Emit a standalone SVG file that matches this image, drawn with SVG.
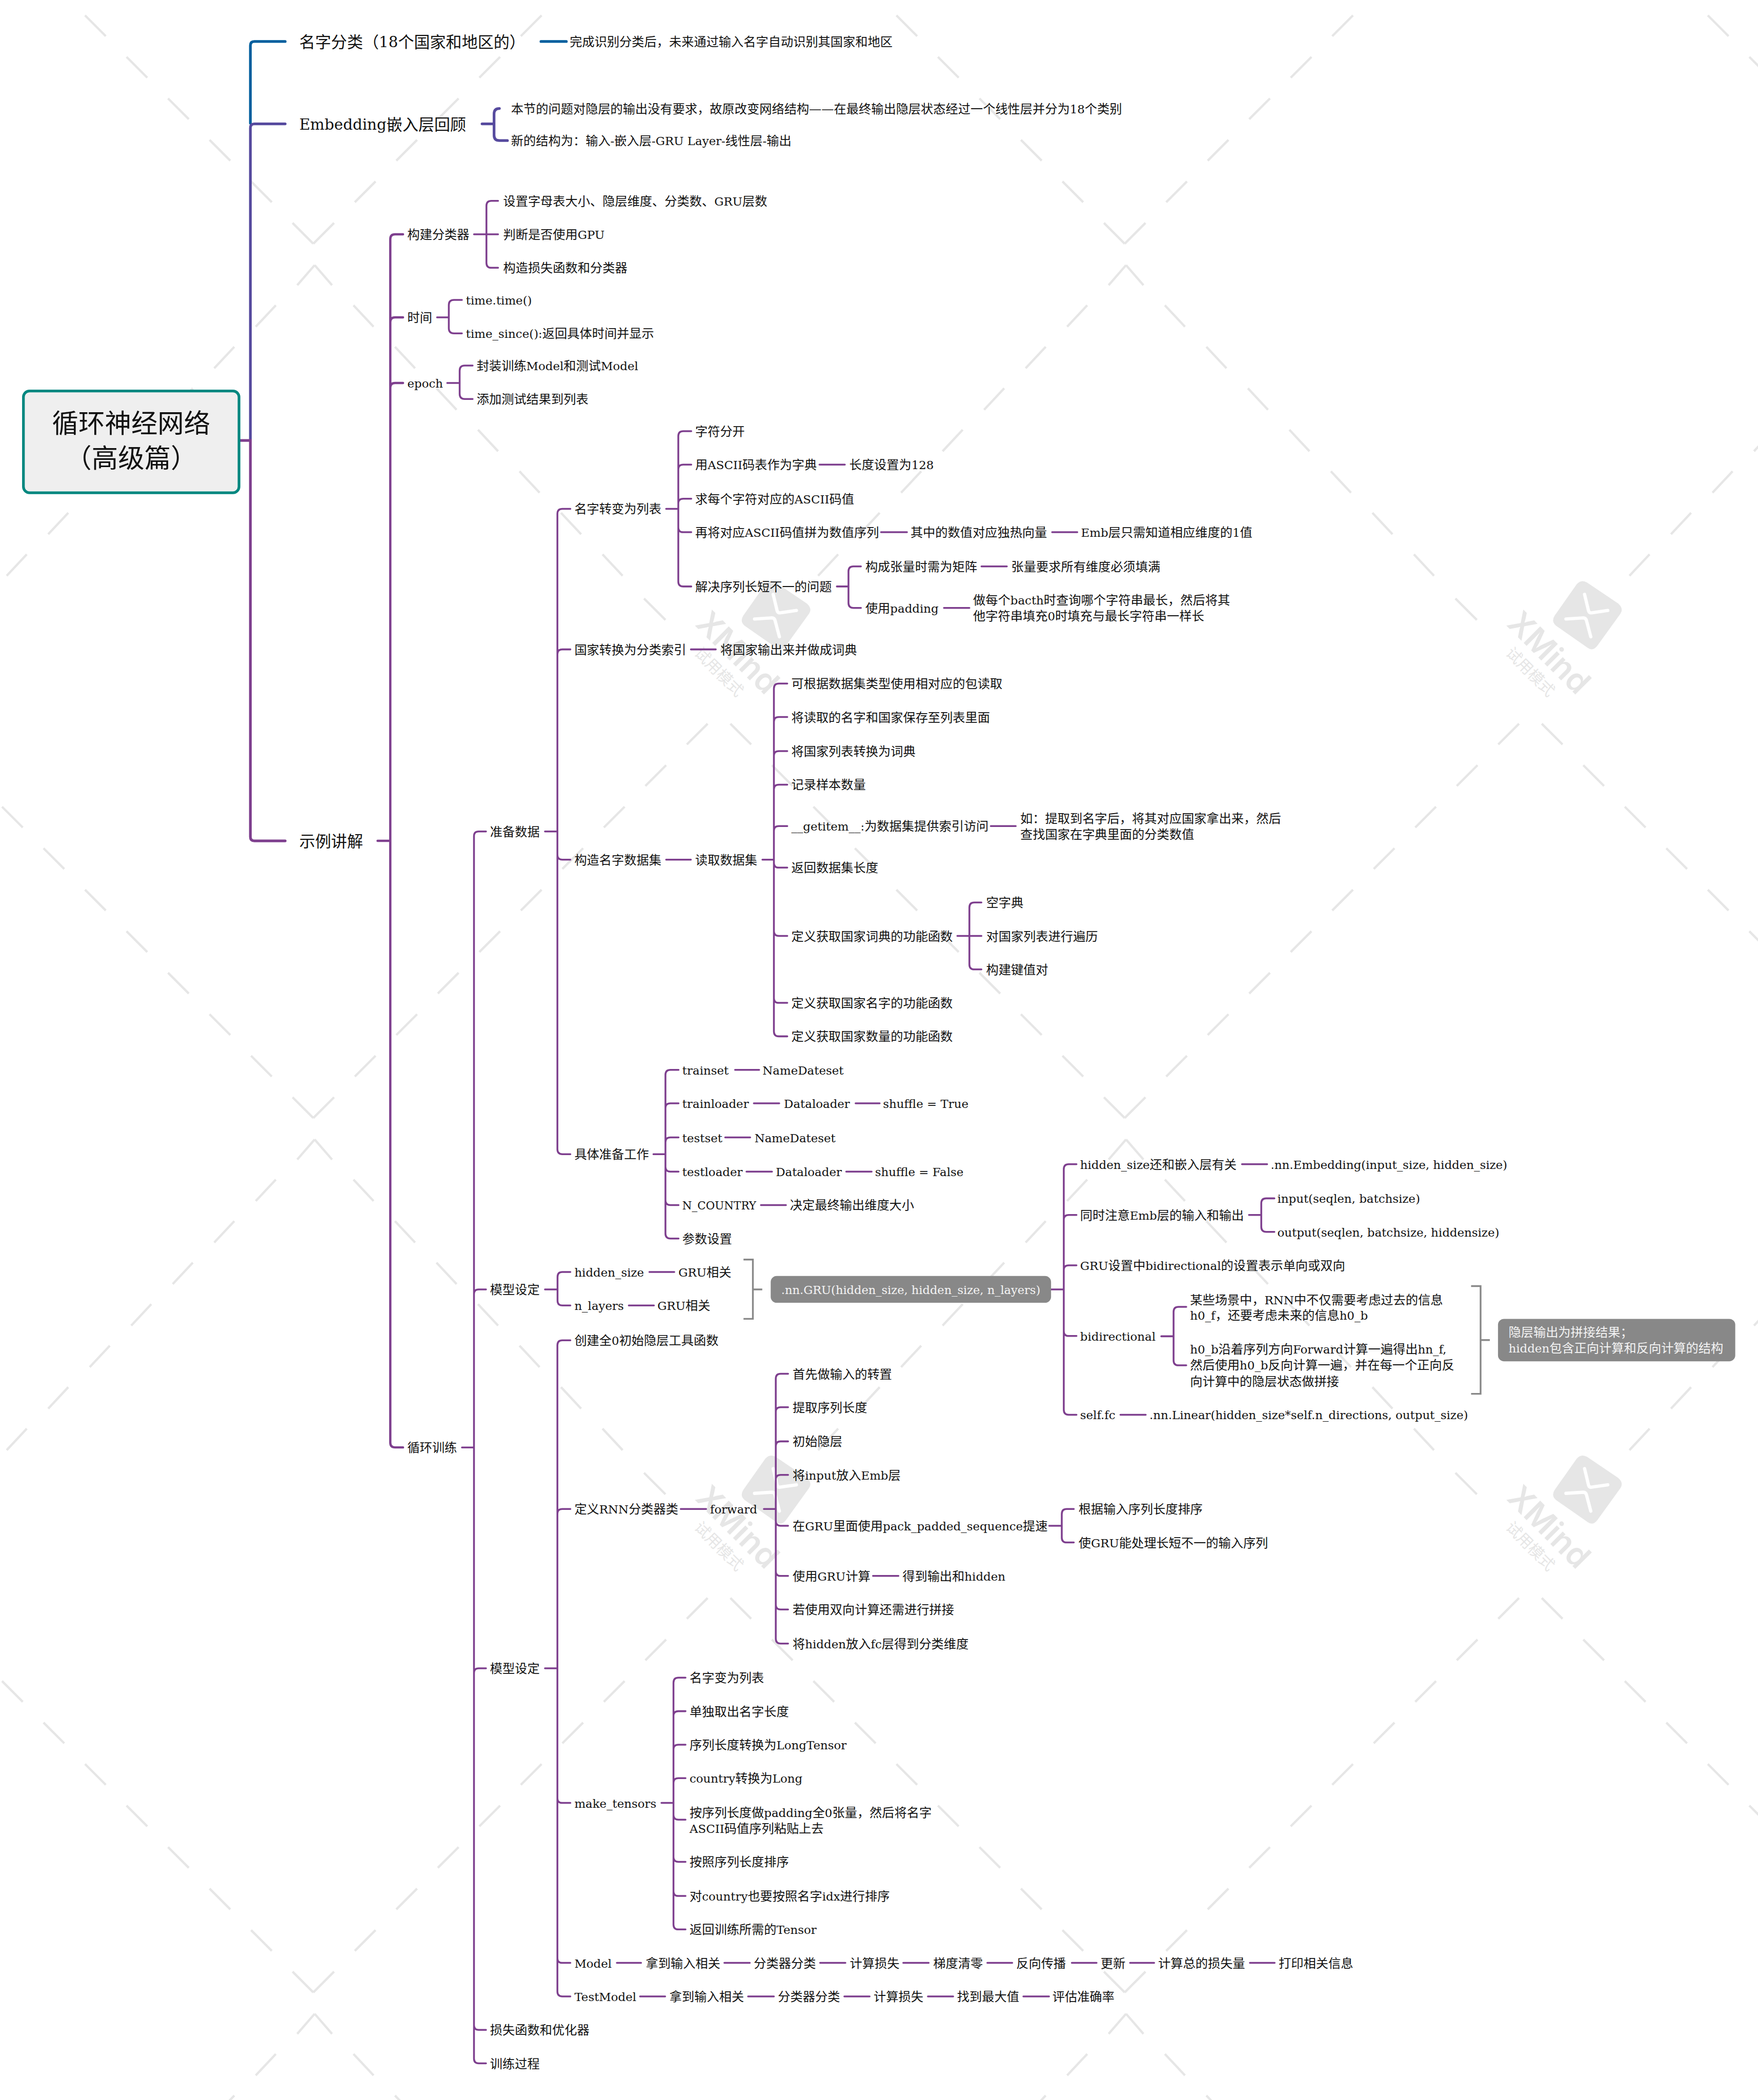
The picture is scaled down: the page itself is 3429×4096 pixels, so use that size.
<svg xmlns="http://www.w3.org/2000/svg" xmlns:xlink="http://www.w3.org/1999/xlink" width="3429" height="4096" viewBox="0 0 3429 4096">
<style>
text{font-family:"DejaVu Serif","Noto Sans CJK SC",serif;fill:#111;dominant-baseline:central}
.t,.e,.w,.we,.m{transform:translateY(.4px)}
.t{font-size:9.28px}
.e{font-size:8.77px}
.l{font-size:.945em}
.m{font-size:11.9px}
.r{font-size:19.7px;text-anchor:middle}
.w{font-size:9.28px;fill:#f4f4f4}
.we{font-size:8.77px;fill:#f4f4f4}
.c{fill:none;stroke:#7e3f8e;stroke-width:1.35;stroke-linecap:round}
.c2{stroke-width:1.7}
.c3{stroke-width:2}
.b{stroke:#005f9e}
.i{stroke:#564a9e}
.g{fill:none;stroke:#888;stroke-width:1.3}
.box{fill:#888}
.tick{fill:none;stroke:#e6e6e6;stroke-width:1.7}
.wm{fill:#e6e6e6}
.wmx{font-family:Inter,"Liberation Sans",sans-serif;font-weight:600;font-size:217px;fill:#e6e6e6;dominant-baseline:auto}
.wmc{font-family:"Noto Sans CJK SC",sans-serif;font-size:104px;fill:#e6e6e6;dominant-baseline:auto}
</style>
<defs>
<g id="tile">
<path class="tick" d="M218.5,166.5L234,182M187.5,135.5L203,151M156.5,104.5L172,120M125.5,73.5L141,89M94.5,42.5L110,58M63.5,11.5L79,27M32.5,-19.5L48,-4M1.5,-50.5L17,-35M-29.5,-81.5L-14,-66M-60.5,-112.5L-45,-97M234,182L249.5,166.5M265,151L280.5,135.5M296,120L311.5,104.5M327,89L342.5,73.5M358,58L373.5,42.5M389,27L404.5,11.5M420,-4L435.5,-19.5M451,-35L466.5,-50.5M482,-66L497.5,-81.5M513,-97L528.5,-112.5M235,198L222,213M206,228L191,244M175,259L160,275M144,290L129,306M113,321L98,337M82,352L67,368M51,383L36,399M20,414L5,430M235,198L248,213M264,228L279,244M295,259L310,275M326,290L341,306M357,321L372,337M388,352L403,368M419,383L434,399M450,414L465,430M481,447L497,463"/>
<g transform="translate(454.5,397.7) scale(0.11047)">
<path class="wm" d="M1060,350Q1090,315 1130,338L1340,480Q1380,515 1355,550L1200,765Q1170,805 1135,780L920,630Q885,600 912,560Z"/>
<path d="M1113,418L1140,530Q1145,545 1160,543L1270,527M987,585L1105,577Q1120,578 1125,592L1155,705" fill="none" stroke="#fff" stroke-width="22" stroke-linecap="round"/>
<text class="wmx" transform="translate(580,625) rotate(45)" textLength="680" lengthAdjust="spacingAndGlyphs">XMind</text>
<text class="wmc" transform="translate(574,821) rotate(45)">试用模式</text>
</g>
</g>
</defs>
<rect width="3429" height="4096" fill="#fff"/>
<g transform="scale(2.6116)">
<g id="watermark">
<use xlink:href="#tile" href="#tile"/>
<use xlink:href="#tile" href="#tile" x="606"/>
<use xlink:href="#tile" href="#tile" x="1212"/>
<use xlink:href="#tile" href="#tile" y="653"/>
<use xlink:href="#tile" href="#tile" x="606" y="653"/>
<use xlink:href="#tile" href="#tile" x="1212" y="653"/>
<use xlink:href="#tile" href="#tile" y="1306"/>
<use xlink:href="#tile" href="#tile" x="606" y="1306"/>
<use xlink:href="#tile" href="#tile" x="1212" y="1306"/>
</g>
<g id="connectors">
<path class="c c3 b" d="M187,92V34Q187,31 190,31H213M404,31H423"/>
<path class="c c3 i" d="M187,329V95.5Q187,92.5 190,92.5H213M360,92.5H369M373,81Q369,81 369,85V101Q369,105 373,105H379"/>
<path class="c c3" d="M179,329H187V625Q187,628 190,628H213"/>
<path class="c c2" d="M282,628H291.5M301,175H295Q291.5,175 291.5,178.5V1077.5Q291.5,1081 295,1081H301M291.5,240.5Q291.5,237 295,237H301M291.5,289.5Q291.5,286 295,286H301"/>
<path class="c" d="M354,175H372M372,150H367Q363.3,150 363.3,153.7V196.3Q363.3,200 367,200H372"/>
<path class="c" d="M326.4,237H335.2M345,224H339Q335.2,224 335.2,227.8V245.2Q335.2,249 339,249H345"/>
<path class="c" d="M334,286H343.3M353,273H347Q343.3,273 343.3,276.8V294.2Q343.3,298 347,298H353"/>
<path class="c" d="M345,1081H354M363,621H357.5Q354,621 354,624.5V1537.5Q354,1541 357.5,1541H363M354,966.5Q354,963 357.5,963H363M354,1249.5Q354,1246 357.5,1246H363M354,1512.5Q354,1516 357.5,1516H363"/>
<path class="c" d="M407,621H416.3M426,380H420Q416.3,380 416.3,383.7V858.3Q416.3,862 420,862H426M416.3,488.5Q416.3,485 420,485H426M416.3,638.5Q416.3,642 420,642H426"/>
<path class="c" d="M497.5,380H506.6M516.3,322H510.3Q506.6,322 506.6,325.7V434.3Q506.6,438 510.3,438H516.3M506.6,350.5Q506.6,347 510.3,347H516.3M506.6,376Q506.6,372.5 510.3,372.5H516.3M506.6,394Q506.6,397.5 510.3,397.5H516.3"/>
<path class="c" d="M612,347H631M658,397.5H677.4M785.8,397.5H804.6"/>
<path class="c" d="M625,438H633.7M643,423H637.4Q633.7,423 633.7,426.7V450.3Q633.7,454 637.4,454H643"/>
<path class="c" d="M733,423H752M705,454H724M516,485H534.6M497.5,642H516"/>
<path class="c" d="M569.4,642H578M588,510.5H581.7Q578,510.5 578,514.2V770.3Q578,774 581.7,774H588M578,539Q578,535.5 581.7,535.5H588M578,564.5Q578,561 581.7,561H588M578,589.5Q578,586 581.7,586H588M578,620.5Q578,617 581.7,617H588M578,644.5Q578,648 581.7,648H588M578,695.5Q578,699 581.7,699H588M578,745.5Q578,749 581.7,749H588"/>
<path class="c" d="M740,617H758.6"/>
<path class="c" d="M715,699H733M733,674H727.7Q724,674 724,677.7V720.3Q724,724 727.7,724H733"/>
<path class="c" d="M488,862H497M506.8,799H500.7Q497,799 497,802.7V921.3Q497,925 500.7,925H506.8M497,827.5Q497,824 500.7,824H506.8M497,853Q497,849.5 500.7,849.5H506.8M497,871.5Q497,875 500.7,875H506.8M497,896.5Q497,900 500.7,900H506.8"/>
<path class="c" d="M549,799H567M563,824H582M639,824H657M541.6,849.5H560.3M557.5,875H576.6M632,875H651M568.3,900H587"/>
<path class="c" d="M407,963H416.4M426,950H420Q416.4,950 416.4,953.7V971.3Q416.4,975 420,975H426M485,950H503.6M469.6,975H488.4"/>
<path class="g" d="M555.3,940.7H562.3V985H555.3M562.3,963H569.3"/>
<path class="c" d="M785,963H794.5M804,869.5H798.2Q794.5,869.5 794.5,873.2V1052.9Q794.5,1056.6 798.2,1056.6H804M794.5,911Q794.5,907.4 798.2,907.4H804M794.5,948.5Q794.5,945 798.2,945H804M794.5,994.2Q794.5,997.8 798.2,997.8H804"/>
<path class="c" d="M927.6,869.5H946.4M836.8,1056.6H855.7"/>
<path class="c" d="M932.8,907.4H942M951.8,895H945.7Q942,895 942,898.7V916.3Q942,920 945.7,920H951.8"/>
<path class="c" d="M867.3,998H876.5M886,976H880.2Q876.5,976 876.5,979.7V1016Q876.5,1019.7 880.2,1019.7H886"/>
<path class="g" d="M1098.7,960.5H1105.8V1041H1098.7M1105.8,1000.8H1112.7"/>
<path class="c" d="M407,1246H416.3M426,1001H420Q416.3,1001 416.3,1004.7V1487.3Q416.3,1491 420,1491H426M416.3,1130.5Q416.3,1127 420,1127H426M416.3,1343Q416.3,1346.5 420,1346.5H426M416.3,1462.5Q416.3,1466 420,1466H426"/>
<path class="c" d="M508.4,1127H527.4M570.5,1127H579.4M588.6,1026H583Q579.4,1026 579.4,1029.7V1223.8Q579.4,1227.5 583,1227.5H588.6M579.4,1054.5Q579.4,1051 583,1051H588.6M579.4,1080Q579.4,1076.5 583,1076.5H588.6M579.4,1105Q579.4,1101.5 583,1101.5H588.6M579.4,1136Q579.4,1139.5 583,1139.5H588.6M579.4,1173.5Q579.4,1177 583,1177H588.6M579.4,1198.5Q579.4,1202 583,1202H588.6"/>
<path class="c" d="M783.6,1139.5H793M802,1127H796.7Q793,1127 793,1130.7V1148.3Q793,1152 796.7,1152H802M652,1177H671"/>
<path class="c" d="M494,1346.5H503M512,1253H506.7Q503,1253 503,1256.7V1437.3Q503,1441 506.7,1441H512M503,1281.5Q503,1278 506.7,1278H512M503,1306.5Q503,1303 506.7,1303H512M503,1331.5Q503,1328 506.7,1328H512M503,1355.5Q503,1359 506.7,1359H512M503,1387Q503,1390.5 506.7,1390.5H512M503,1412.5Q503,1416 506.7,1416H512"/>
<path class="c" d="M460.7,1466H478.8M541,1466H560M612.5,1466H631.4M674.6,1466H693.6M737.4,1466H756M800.5,1466H819M844,1466H862M933.5,1466H952"/>
<path class="c" d="M478,1491H496.8M558.7,1491H578M630.6,1491H649.5M693,1491H711.9M764.3,1491H783.5"/>
</g>
<g id="root"><rect x="17.5" y="292" width="161" height="76" rx="4.5" fill="#efefef" stroke="#00877f" stroke-width="2"/><text class="r" x="98" y="316.2">循环神经网络</text><text class="r" x="98" y="342.4">（高级篇）</text></g>
<g id="n1"><text class="m" x="223.5" y="31">名字分类（<tspan class="l">18</tspan>个国家和地区的）</text></g>
<g id="n1a"><text class="t" x="425.5" y="31">完成识别分类后，未来通过输入名字自动识别其国家和地区</text></g>
<g id="n2"><text class="m" x="223.5" y="92.5"><tspan class="l">Embedding</tspan>嵌入层回顾</text></g>
<g id="n2a"><text class="t" x="381.7" y="81">本节的问题对隐层的输出没有要求，故原改变网络结构——在最终输出隐层状态经过一个线性层并分为<tspan class="l">18</tspan>个类别</text></g>
<g id="n2b"><text class="t" x="381.7" y="105">新的结构为：输入<tspan class="l">-</tspan>嵌入层<tspan class="l">-GRU Layer-</tspan>线性层<tspan class="l">-</tspan>输出</text></g>
<g id="n3"><text class="m" x="223.5" y="628">示例讲解</text></g>
<g id="a1"><text class="t" x="304.2" y="175">构建分类器</text></g>
<g id="a1a"><text class="t" x="375.8" y="150">设置字母表大小、隐层维度、分类数、<tspan class="l">GRU</tspan>层数</text></g>
<g id="a1b"><text class="t" x="375.8" y="175">判断是否使用<tspan class="l">GPU</tspan></text></g>
<g id="a1c"><text class="t" x="375.8" y="200">构造损失函数和分类器</text></g>
<g id="a2"><text class="t" x="304.2" y="237">时间</text></g>
<g id="a2a"><text class="e" x="348" y="224">time.time()</text></g>
<g id="a2b"><text class="t" x="348" y="249"><tspan class="l">time_since():</tspan>返回具体时间并显示</text></g>
<g id="a3"><text class="e" x="304.2" y="286">epoch</text></g>
<g id="a3a"><text class="t" x="356" y="273">封装训练<tspan class="l">Model</tspan>和测试<tspan class="l">Model</tspan></text></g>
<g id="a3b"><text class="t" x="356" y="298">添加测试结果到列表</text></g>
<g id="a4"><text class="t" x="304.2" y="1081">循环训练</text></g>
<g id="b1"><text class="t" x="366" y="621">准备数据</text></g>
<g id="c1"><text class="t" x="429" y="380">名字转变为列表</text></g>
<g id="c1a"><text class="t" x="519.2" y="322">字符分开</text></g>
<g id="c1b"><text class="t" x="519.2" y="347">用<tspan class="l">ASCII</tspan>码表作为字典</text></g>
<g id="c1b1"><text class="t" x="634.3" y="347">长度设置为<tspan class="l">128</tspan></text></g>
<g id="c1c"><text class="t" x="519.2" y="372.5">求每个字符对应的<tspan class="l">ASCII</tspan>码值</text></g>
<g id="c1d"><text class="t" x="519.2" y="397.5">再将对应<tspan class="l">ASCII</tspan>码值拼为数值序列</text></g>
<g id="c1d1"><text class="t" x="680" y="397.5">其中的数值对应独热向量</text></g>
<g id="c1d2"><text class="t" x="807.4" y="397.5"><tspan class="l">Emb</tspan>层只需知道相应维度的<tspan class="l">1</tspan>值</text></g>
<g id="c1e"><text class="t" x="519.2" y="438">解决序列长短不一的问题</text></g>
<g id="c1e1"><text class="t" x="646.3" y="423">构成张量时需为矩阵</text></g>
<g id="c1e1a"><text class="t" x="755.3" y="423">张量要求所有维度必须填满</text></g>
<g id="c1e2"><text class="t" x="646.3" y="454">使用<tspan class="l">padding</tspan></text></g>
<g id="c1e2a"><text class="t" x="726.8" y="448">做每个<tspan class="l">bacth</tspan>时查询哪个字符串最长，然后将其</text><text class="t" x="726.8" y="460">他字符串填充<tspan class="l">0</tspan>时填充与最长字符串一样长</text></g>
<g id="c2"><text class="t" x="429" y="485">国家转换为分类索引</text></g>
<g id="c2a"><text class="t" x="538" y="485">将国家输出来并做成词典</text></g>
<g id="c3"><text class="t" x="429" y="642">构造名字数据集</text></g>
<g id="c3a"><text class="t" x="519.2" y="642">读取数据集</text></g>
<g id="d1"><text class="t" x="591" y="510.5">可根据数据集类型使用相对应的包读取</text></g>
<g id="d2"><text class="t" x="591" y="535.5">将读取的名字和国家保存至列表里面</text></g>
<g id="d3"><text class="t" x="591" y="561">将国家列表转换为词典</text></g>
<g id="d4"><text class="t" x="591" y="586">记录样本数量</text></g>
<g id="d5"><text class="t" x="591" y="617"><tspan class="l">__getitem__:</tspan>为数据集提供索引访问</text></g>
<g id="d5a"><text class="t" x="762" y="611">如：提取到名字后，将其对应国家拿出来，然后</text><text class="t" x="762" y="623">查找国家在字典里面的分类数值</text></g>
<g id="d6"><text class="t" x="591" y="648">返回数据集长度</text></g>
<g id="d7"><text class="t" x="591" y="699">定义获取国家词典的功能函数</text></g>
<g id="d7a"><text class="t" x="736.5" y="674">空字典</text></g>
<g id="d7b"><text class="t" x="736.5" y="699">对国家列表进行遍历</text></g>
<g id="d7c"><text class="t" x="736.5" y="724">构建键值对</text></g>
<g id="d8"><text class="t" x="591" y="749">定义获取国家名字的功能函数</text></g>
<g id="d9"><text class="t" x="591" y="774">定义获取国家数量的功能函数</text></g>
<g id="c4"><text class="t" x="429" y="862">具体准备工作</text></g>
<g id="e1"><text class="e" x="509.6" y="799">trainset</text></g>
<g id="e1a"><text class="e" x="569.5" y="799">NameDateset</text></g>
<g id="e2"><text class="e" x="509.6" y="824">trainloader</text></g>
<g id="e2a"><text class="e" x="585.5" y="824">Dataloader</text></g>
<g id="e2b"><text class="e" x="659.5" y="824">shuffle = True</text></g>
<g id="e3"><text class="e" x="509.6" y="849.5">testset</text></g>
<g id="e3a"><text class="e" x="563.5" y="849.5">NameDateset</text></g>
<g id="e4"><text class="e" x="509.6" y="875">testloader</text></g>
<g id="e4a"><text class="e" x="579.4" y="875">Dataloader</text></g>
<g id="e4b"><text class="e" x="653.5" y="875">shuffle = False</text></g>
<g id="e5"><text class="e" x="509.6" y="900" textLength="55.2" lengthAdjust="spacingAndGlyphs">N_COUNTRY</text></g>
<g id="e5a"><text class="t" x="590" y="900">决定最终输出维度大小</text></g>
<g id="e6"><text class="t" x="509.6" y="925">参数设置</text></g>
<g id="b2"><text class="t" x="366" y="963">模型设定</text></g>
<g id="f1"><text class="e" x="429" y="950">hidden_size</text></g>
<g id="f1a"><text class="t" x="506.7" y="950"><tspan class="l">GRU</tspan>相关</text></g>
<g id="f2"><text class="e" x="429" y="975">n_layers</text></g>
<g id="f2a"><text class="t" x="491" y="975"><tspan class="l">GRU</tspan>相关</text></g>
<g id="s1"><rect class="box" x="575.6" y="953" width="209.4" height="20" rx="4.5"/><text class="we" x="583.5" y="963" textLength="193.5" lengthAdjust="spacingAndGlyphs">.nn.GRU(hidden_size, hidden_size, n_layers)</text></g>
<g id="h1"><text class="t" x="806.7" y="869.5"><tspan class="l">hidden_size</tspan>还和嵌入层有关</text></g>
<g id="h1a"><text class="e" x="949" y="869.5">.nn.Embedding(input_size, hidden_size)</text></g>
<g id="h2"><text class="t" x="806.7" y="907.4">同时注意<tspan class="l">Emb</tspan>层的输入和输出</text></g>
<g id="h2a"><text class="e" x="954" y="895">input(seqlen, batchsize)</text></g>
<g id="h2b"><text class="e" x="954" y="920">output(seqlen, batchsize, hiddensize)</text></g>
<g id="h3"><text class="t" x="806.7" y="945"><tspan class="l">GRU</tspan>设置中<tspan class="l">bidirectional</tspan>的设置表示单向或双向</text></g>
<g id="h4"><text class="e" x="806.7" y="997.8">bidirectional</text></g>
<g id="h4a"><text class="t" x="888.8" y="970.5">某些场景中，<tspan class="l">RNN</tspan>中不仅需要考虑过去的信息</text><text class="t" x="888.8" y="982.3"><tspan class="l">h0_f</tspan>，还要考虑未来的信息<tspan class="l">h0_b</tspan></text></g>
<g id="h4b"><text class="t" x="888.8" y="1007.4"><tspan class="l">h0_b</tspan>沿着序列方向<tspan class="l">Forward</tspan>计算一遍得出<tspan class="l">hn_f,</tspan></text><text class="t" x="888.8" y="1019.3">然后使用<tspan class="l">h0_b</tspan>反向计算一遍，并在每一个正向反</text><text class="t" x="888.8" y="1031.5">向计算中的隐层状态做拼接</text></g>
<g id="s2"><rect class="box" x="1118.8" y="985" width="177.2" height="31.7" rx="4.5"/><text class="w" x="1126.7" y="994.8">隐层输出为拼接结果；</text><text class="w" x="1126.7" y="1006.8"><tspan class="l">hidden</tspan>包含正向计算和反向计算的结构</text></g>
<g id="h5"><text class="e" x="806.7" y="1056.6">self.fc</text></g>
<g id="h5a"><text class="e" x="858.5" y="1056.6">.nn.Linear(hidden_size*self.n_directions, output_size)</text></g>
<g id="b3"><text class="t" x="366" y="1246">模型设定</text></g>
<g id="j1"><text class="t" x="429" y="1001">创建全<tspan class="l">0</tspan>初始隐层工具函数</text></g>
<g id="j2"><text class="t" x="429" y="1127">定义<tspan class="l">RNN</tspan>分类器类</text></g>
<g id="j2a"><text class="e" x="530.3" y="1127">forward</text></g>
<g id="k1"><text class="t" x="592" y="1026">首先做输入的转置</text></g>
<g id="k2"><text class="t" x="592" y="1051">提取序列长度</text></g>
<g id="k3"><text class="t" x="592" y="1076.5">初始隐层</text></g>
<g id="k4"><text class="t" x="592" y="1101.5">将<tspan class="l">input</tspan>放入<tspan class="l">Emb</tspan>层</text></g>
<g id="k5"><text class="t" x="592" y="1139.5">在<tspan class="l">GRU</tspan>里面使用<tspan class="l">pack_padded_sequence</tspan>提速</text></g>
<g id="k5a"><text class="t" x="805.5" y="1127">根据输入序列长度排序</text></g>
<g id="k5b"><text class="t" x="805.5" y="1152">使<tspan class="l">GRU</tspan>能处理长短不一的输入序列</text></g>
<g id="k6"><text class="t" x="592" y="1177">使用<tspan class="l">GRU</tspan>计算</text></g>
<g id="k6a"><text class="t" x="674" y="1177">得到输出和<tspan class="l">hidden</tspan></text></g>
<g id="k7"><text class="t" x="592" y="1202">若使用双向计算还需进行拼接</text></g>
<g id="k8"><text class="t" x="592" y="1227.5">将<tspan class="l">hidden</tspan>放入<tspan class="l">fc</tspan>层得到分类维度</text></g>
<g id="j3"><text class="e" x="429" y="1346.5">make_tensors</text></g>
<g id="l1"><text class="t" x="515" y="1253">名字变为列表</text></g>
<g id="l2"><text class="t" x="515" y="1278">单独取出名字长度</text></g>
<g id="l3"><text class="t" x="515" y="1303">序列长度转换为<tspan class="l">LongTensor</tspan></text></g>
<g id="l4"><text class="t" x="515" y="1328"><tspan class="l">country</tspan>转换为<tspan class="l">Long</tspan></text></g>
<g id="l5"><text class="t" x="515" y="1353.5">按序列长度做<tspan class="l">padding</tspan>全<tspan class="l">0</tspan>张量，然后将名字</text><text class="t" x="515" y="1365.5"><tspan class="l">ASCII</tspan>码值序列粘贴上去</text></g>
<g id="l6"><text class="t" x="515" y="1390.5">按照序列长度排序</text></g>
<g id="l7"><text class="t" x="515" y="1416">对<tspan class="l">country</tspan>也要按照名字<tspan class="l">idx</tspan>进行排序</text></g>
<g id="l8"><text class="t" x="515" y="1441">返回训练所需的<tspan class="l">Tensor</tspan></text></g>
<g id="j4"><text class="e" x="429" y="1466">Model</text></g>
<g id="j4a"><text class="t" x="482.3" y="1466">拿到输入相关</text></g>
<g id="j4b"><text class="t" x="563" y="1466">分类器分类</text></g>
<g id="j4c"><text class="t" x="634.7" y="1466">计算损失</text></g>
<g id="j4d"><text class="t" x="697" y="1466">梯度清零</text></g>
<g id="j4e"><text class="t" x="759" y="1466">反向传播</text></g>
<g id="j4f"><text class="t" x="822" y="1466">更新</text></g>
<g id="j4g"><text class="t" x="865" y="1466">计算总的损失量</text></g>
<g id="j4h"><text class="t" x="955" y="1466">打印相关信息</text></g>
<g id="j5"><text class="e" x="429" y="1491">TestModel</text></g>
<g id="j5a"><text class="t" x="500" y="1491">拿到输入相关</text></g>
<g id="j5b"><text class="t" x="581" y="1491">分类器分类</text></g>
<g id="j5c"><text class="t" x="652.5" y="1491">计算损失</text></g>
<g id="j5d"><text class="t" x="714.8" y="1491">找到最大值</text></g>
<g id="j5e"><text class="t" x="786" y="1491">评估准确率</text></g>
<g id="b4"><text class="t" x="366" y="1516">损失函数和优化器</text></g>
<g id="b5"><text class="t" x="366" y="1541">训练过程</text></g>
</g>
</svg>
